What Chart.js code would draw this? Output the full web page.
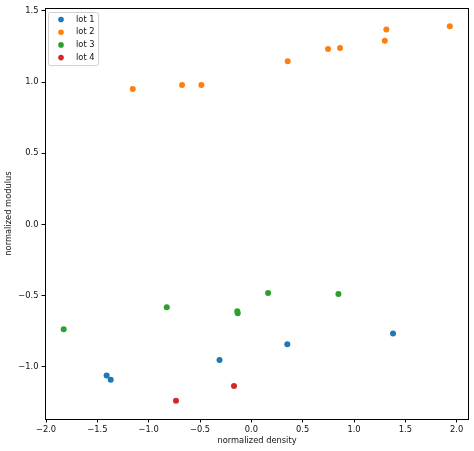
<!DOCTYPE html>
<html>
<head>
<meta charset="utf-8">
<script src="https://cdn.jsdelivr.net/npm/chart.js@4/dist/chart.umd.min.js"></script>
<style>
  html, body { margin: 0; padding: 0; background: #fff; }
  #wrap { width: 474px; height: 451px; }
</style>
</head>
<body>
<div id="wrap"><canvas id="c" width="474" height="451"></canvas></div>
<script>
// ===== データ =====
const lotNames  = ['lot 1', 'lot 2', 'lot 3', 'lot 4'];
const lotColors = ['#1f77b4', '#ff7f0e', '#2ca02c', '#d62728'];

const lot1Density = [-1.41, -1.37, -0.31, 0.35, 1.38];
const lot1Modulus = [-1.06, -1.09, -0.95, -0.84, -0.765];

const lot2Density = [-1.155, -0.675, -0.487, 0.354, 0.747, 0.864, 1.30, 1.315, 1.933];
const lot2Modulus = [0.952, 0.98, 0.98, 1.146, 1.232, 1.239, 1.29, 1.369, 1.392];

const lot3Density = [-1.828, -0.824, -0.137, -0.133, 0.163, 0.848];
const lot3Modulus = [-0.735, -0.581, -0.609, -0.623, -0.481, -0.488];

const lot4Density = [-0.734, -0.169];
const lot4Modulus = [-1.237, -1.133];

const xTicks = [-2.0, -1.5, -1.0, -0.5, 0.0, 0.5, 1.0, 1.5, 2.0];
const yTicks = [-1.0, -0.5, 0.0, 0.5, 1.0, 1.5];

// ===== ユーティリティ =====
function pts(xs, ys) {
  return xs.map((x, i) => ({ x, y: ys[i] }));
}
function fmt(v) {
  return v.toFixed(1).replace('-', '\u2212');
}

const series = [
  pts(lot1Density, lot1Modulus),
  pts(lot2Density, lot2Modulus),
  pts(lot3Density, lot3Modulus),
  pts(lot4Density, lot4Modulus),
];

const FONT = 'DejaVu Sans';
const FSIZE = 8.3;
const TEXT = '#111';

// 枠線（4辺）
const boxPlugin = {
  id: 'box',
  afterDatasetsDraw(chart) {
    const { ctx, chartArea: a } = chart;
    ctx.save();
    ctx.strokeStyle = '#000';
    ctx.lineWidth = 1;
    ctx.strokeRect(Math.round(a.left) + 0.5, Math.round(a.top) + 0.5,
                   Math.round(a.right - a.left) - 1, Math.round(a.bottom - a.top));
    ctx.restore();
  },
};

// 凡例（プロット内左上）
const legendPlugin = {
  id: 'innerLegend',
  afterDraw(chart) {
    const { ctx, chartArea: a } = chart;
    const x0 = a.left + 3, y0 = a.top + 4;
    const w = 50, rowH = 12.7, h = 7 + rowH * 3 + 8;
    ctx.save();
    ctx.fillStyle = 'rgba(255,255,255,0.8)';
    ctx.strokeStyle = '#d0d0d0';
    ctx.lineWidth = 1;
    ctx.beginPath();
    ctx.roundRect(x0 + 0.5, y0 + 0.5, w, h, 2);
    ctx.fill();
    ctx.stroke();
    ctx.font = `${FSIZE}px "${FONT}"`;
    ctx.textBaseline = 'middle';
    chart.data.datasets.forEach((ds, i) => {
      const cy = y0 + 7.5 + i * rowH;
      ctx.fillStyle = ds.backgroundColor;
      ctx.beginPath();
      ctx.arc(x0 + 13, cy, 2.8, 0, Math.PI * 2);
      ctx.fill();
      ctx.fillStyle = TEXT;
      ctx.fillText(ds.label, x0 + 28, cy);
    });
    ctx.restore();
  },
};

new Chart(document.getElementById('c').getContext('2d'), {
  type: 'scatter',
  data: {
    datasets: series.map((d, i) => ({
      label: lotNames[i],
      data: d,
      backgroundColor: lotColors[i],
      borderColor: lotColors[i],
      borderWidth: 0,
      pointRadius: 3,
    })),
  },
  options: {
    responsive: false,
    animation: false,
    layout: { padding: { top: 6, right: 5, left: 0, bottom: 0 } },
    plugins: {
      legend: { display: false },
      tooltip: { enabled: false },
    },
    scales: {
      x: {
        type: 'linear',
        min: -2.01,
        max: 2.12,
        afterBuildTicks: s => { s.ticks = xTicks.map(v => ({ value: v })); },
        afterFit: s => { s.height = 32; },
        ticks: {
          callback: v => fmt(v),
          font: { family: FONT, size: FSIZE },
          color: TEXT,
          padding: 2,
          maxRotation: 0,
          autoSkip: false,
        },
        grid: { drawOnChartArea: false, drawTicks: true, tickLength: 3.5, color: '#000' },
        border: { display: false },
        title: {
          display: true,
          text: 'normalized density',
          font: { family: FONT, size: FSIZE },
          color: TEXT,
          padding: { top: 5, bottom: 5 },
        },
      },
      y: {
        type: 'linear',
        min: -1.365,
        max: 1.52,
        afterBuildTicks: s => { s.ticks = yTicks.map(v => ({ value: v })); },
        afterFit: s => { s.width = 45; },
        ticks: {
          callback: v => fmt(v),
          font: { family: FONT, size: FSIZE },
          color: TEXT,
          padding: 3,
          autoSkip: false,
        },
        grid: { drawOnChartArea: false, drawTicks: true, tickLength: 3.5, color: '#000' },
        border: { display: false },
        title: {
          display: true,
          text: 'normalized modulus',
          font: { family: FONT, size: FSIZE },
          color: TEXT,
          padding: { top: 4, bottom: 4 },
        },
      },
    },
  },
  plugins: [boxPlugin, legendPlugin],
});
</script>
</body>
</html>
